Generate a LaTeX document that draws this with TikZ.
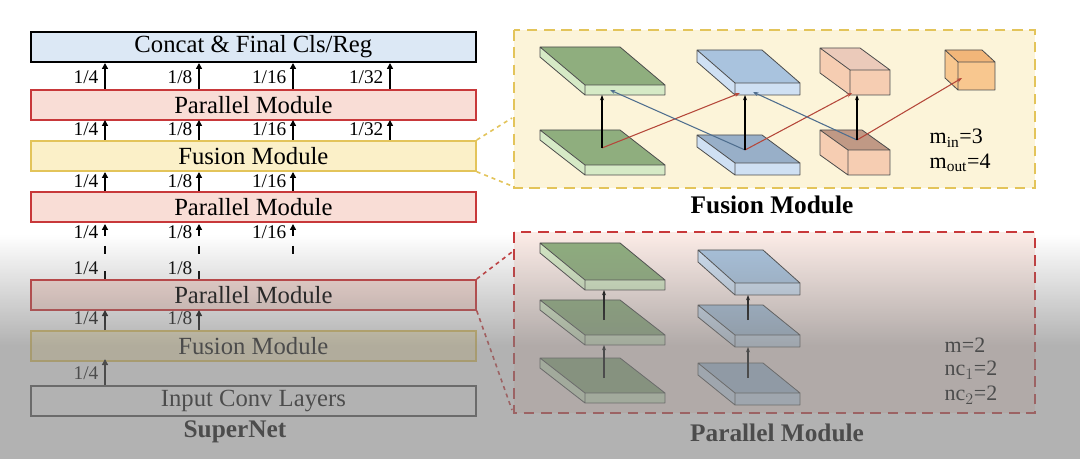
\documentclass[tikz,border=0pt]{standalone}
\usepackage{fontspec}
\setmainfont{Liberation Serif}
\usetikzlibrary{arrows.meta,fadings}
\definecolor{cblue}{HTML}{DCE8F5}
\definecolor{pfill}{HTML}{F9DDD6}
\definecolor{pline}{HTML}{C8383A}
\definecolor{ffill}{HTML}{FBF0C8}
\definecolor{fline}{HTML}{E3C45A}
\definecolor{gtop}{HTML}{8FAE7E}
\definecolor{gfront}{HTML}{D6EAC6}
\definecolor{btop}{HTML}{A9C3DE}
\definecolor{bfront}{HTML}{CFE0F3}
\definecolor{otop}{HTML}{E2B49C}
\definecolor{ofront}{HTML}{F6CDB2}
\definecolor{ctop}{HTML}{F2B679}
\definecolor{cfront}{HTML}{F8C78F}
\definecolor{redar}{HTML}{B5473A}
\definecolor{bluar}{HTML}{4F6E8E}
\newcommand\myslab[8]{%
  \fill[#7] (#1,#2)--(#1+#3,#2)--(#1+#3+#5,#2+#6)--(#1+#5,#2+#6)--cycle;
  \fill[#8] (#1,#2) rectangle (#1+#3,#2+#4);
  \fill[#8] (#1,#2)--(#1+#5,#2+#6)--(#1+#5,#2+#6+#4)--(#1,#2+#4)--cycle;
  \draw[black!70,line width=0.6pt,line join=round]
    (#1,#2+#4)--(#1+#3,#2+#4)--(#1+#3,#2)--(#1+#3+#5,#2+#6)--(#1+#5,#2+#6)--(#1+#5,#2+#6+#4)--(#1,#2+#4)--cycle
    (#1,#2)--(#1+#3,#2) (#1,#2)--(#1+#5,#2+#6) (#1,#2)--(#1,#2+#4);}
\tikzset{
  x=0.75pt,y=-0.75pt,
  box/.style={draw,line width=1.3pt,minimum width=445*0.75pt,minimum height=30*0.75pt,inner sep=0pt,font=\fontsize{18.5}{20}\selectfont,anchor=north west},
  par/.style={box,fill=pfill,draw=pline},
  fus/.style={box,fill=ffill,draw=fline},
  lab/.style={font=\fontsize{14.5}{16}\selectfont,anchor=east,inner sep=1pt},
  up/.style={-{Triangle[width=4.5pt,length=4.5pt]},line width=1.1pt},
  fa/.style={-{Stealth[width=3pt,length=4pt]},line width=0.8pt},
  ttl/.style={font=\bfseries\fontsize{19}{21}\selectfont},
  val/.style={anchor=west,font=\fontsize{16.5}{18}\selectfont},
}
\begin{document}
\begin{tikzpicture}
\useasboundingbox (0,0) rectangle (1080,459);
\fill[white] (0,0) rectangle (1080,459);
% left column
\node[box,fill=cblue,draw=black] (cat) at (30,31) {Concat \& Final Cls/Reg};
\node[par] (p1) at (30,89) {Parallel Module};
\node[fus] (f1) at (30,140) {Fusion Module};
\node[par] (p2) at (30,191) {Parallel Module};
\node[par] (p3) at (30,279) {Parallel Module};
\node[fus] (f2) at (30,330) {Fusion Module};
\node[box,draw=black!70,fill=white] (inp) at (30,385) {Input Conv Layers};
\node[ttl] (sn) at (235,432) {SuperNet};
\foreach \x/\t in {105/1\slash4,199/1\slash8,293/1\slash16,390/1\slash32}{
  \draw[up] (\x,89) -- (\x,63);
  \node[lab] at (\x-5,77) {\t};
  \draw[up] (\x,140) -- (\x,120);
  \node[lab] at (\x-5,129) {\t};}
\foreach \x/\t in {105/1\slash4,199/1\slash8,293/1\slash16}{
  \draw[up] (\x,191) -- (\x,172);
  \node[lab] at (\x-5,181) {\t};
  \draw[up] (\x,236) -- (\x,224);
  \node[lab] at (\x-5,232) {\t};
  \draw[line width=2pt] (\x,246) -- (\x,254);}
\foreach \x/\t in {105/1\slash4,199/1\slash8}{
  \draw[line width=1.3pt] (\x,279) -- (\x,271);
  \node[lab] at (\x-5,268) {\t};
  \draw[up] (\x,330) -- (\x,310);
  \node[lab] at (\x-5,318) {\t};}
\draw[up] (105,385) -- (105,359);
\node[lab] at (100,373) {1\slash4};
% zoom lines
\draw[fline,dashed,line width=1.2pt] (f1.north east) -- (512,118);
\draw[fline,dashed,line width=1.2pt] (f1.south east) -- (512,186);
\draw[pline,dashed,line width=1.2pt] (p3.north east) -- (512,252);
\draw[pline,dashed,line width=1.2pt] (p3.south east) -- (512,410);
% fusion panel
\draw[fline,fill=ffill!70,dashed,dash pattern=on 8pt off 5pt,line width=1.2pt] (514,30) rectangle (1035,188);
\myslab{585}{85}{80}{10}{-45}{-38}{gtop}{gfront}
\myslab{735}{83}{65}{12}{-38}{-33}{btop}{bfront}
\myslab{850}{70}{40}{25}{-30}{-22}{otop!70!white}{ofront}
\myslab{958}{62}{37}{28}{-13}{-12}{ctop}{cfront}
\myslab{585}{165}{80}{10}{-45}{-35}{gtop}{gfront}
\myslab{735}{163}{65}{12}{-38}{-28}{btop!90!black}{bfront}
\myslab{848}{150}{42}{25}{-28}{-20}{otop!85!black}{ofront}
\coordinate (g0) at (602,148); \coordinate (b0) at (745,150); \coordinate (o0) at (857,140);
\coordinate (g1) at (602,95); \coordinate (b1) at (745,95); \coordinate (o1) at (857,95);
\coordinate (c1) at (962,78);
\draw[fa,redar] (g0) -- (740,93);
\draw[fa,redar] (b0) -- (852,93);
\draw[fa,redar] (o0) -- (c1);
\draw[fa,bluar] (b0) -- (610,90);
\draw[fa,bluar] (o0) -- (753,92);
\draw[fa,black] (g0) -- (g1);
\draw[fa,black] (b0) -- (b1);
\draw[fa,black] (o0) -- (o1);
\node[val] (min) at (925,138) {m$_{\mathrm{in}}$=3};
\node[val] (mout) at (925,163) {m$_{\mathrm{out}}$=4};
\node[ttl] (ft) at (772,205) {Fusion Module};
% parallel panel
\draw[pline,fill=pfill!60,dashed,dash pattern=on 8pt off 5pt,line width=1.2pt] (514,232) rectangle (1035,413);
\myslab{585}{280}{80}{10}{-45}{-37}{gtop}{gfront}
\myslab{585}{335}{80}{10}{-45}{-35}{gtop}{gfront}
\myslab{585}{393}{80}{10}{-45}{-35}{gtop}{gfront}
\myslab{735}{283}{65}{12}{-37}{-33}{btop}{bfront}
\myslab{735}{335}{65}{12}{-37}{-30}{btop}{bfront}
\myslab{735}{393}{65}{12}{-37}{-30}{btop}{bfront}
\draw[fa] (604,320) -- (604,290);
\draw[fa] (748,320) -- (748,295);
\draw[fa] (604,378) -- (604,345);
\draw[fa] (748,378) -- (748,347);
\node[val] (m) at (940,345) {m=2};
\node[val] (n1) at (940,370) {nc$_1$=2};
\node[val] (n2) at (940,395) {nc$_2$=2};
\node[ttl] (pt) at (777,433) {Parallel Module};
% fade overlay
\fill[black!50,opacity=0.6,path fading=north] (0,235) rectangle (1080,345);
\fill[black!50,opacity=0.6] (0,344.5) rectangle (1080,459);
\end{tikzpicture}
\end{document}
